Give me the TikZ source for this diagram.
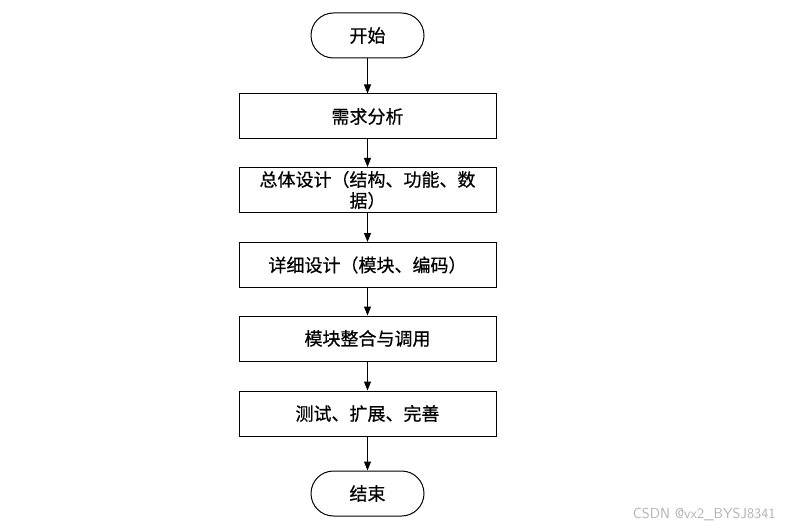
\documentclass[tikz,border=0pt]{standalone}
\usepackage{fontspec}
\newfontfamily\cjk[FakeBold=0.6]{Noto Sans CJK SC}
\usetikzlibrary{arrows.meta}
\begin{document}
\begin{tikzpicture}[x=1pt,y=-1pt,
  every node/.style={font=\cjk\fontsize{18}{21}\selectfont},
  proc/.style={draw=black,line width=1pt,minimum width=257pt,minimum height=45pt,inner sep=0pt,align=center},
  term/.style={draw=black,line width=1pt,minimum width=113pt,minimum height=45pt,rounded corners=22.5pt,inner sep=0pt},
  conn/.style={line width=1pt,-{Triangle[length=9pt,width=7pt]}}]
\useasboundingbox (0,0) rectangle (794,529);
\node[term] (s) at (367.5,35.5) {开始};
\node[proc] (a) at (367.5,116.5) {需求分析};
\node[proc] (b) at (367.5,190) {总体设计（结构、功能、数\\据）};
\node[proc] (c) at (367.5,265) {详细设计（模块、编码）};
\node[proc] (d) at (367.5,338.5) {模块整合与调用};
\node[proc] (e) at (367.5,413.5) {测试、扩展、完善};
\node[term] (t) at (367.5,493.5) {结束};
\draw[conn] (s) -- (a);
\draw[conn] (a) -- (b);
\draw[conn] (b) -- (c);
\draw[conn] (c) -- (d);
\draw[conn] (d) -- (e);
\draw[conn] (e) -- (t);
\node[font=\sffamily\fontsize{14.5}{16}\selectfont,text=black!30,anchor=east] (w) at (779,514) {CSDN @vx2\_BYSJ8341};
\end{tikzpicture}
\end{document}
